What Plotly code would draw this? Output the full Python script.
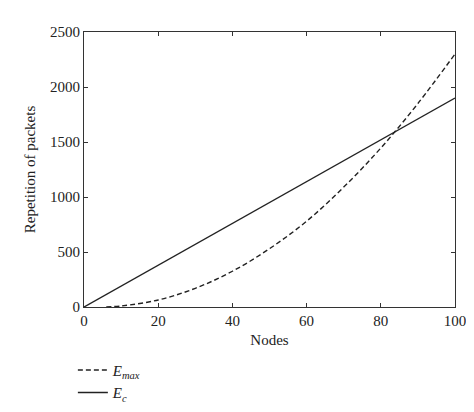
import plotly.graph_objects as go

nodes_emax = [6, 10, 20, 30, 40, 50, 60, 70, 80, 90, 100]
emax = [1, 9, 64, 170, 325, 530, 780, 1090, 1445, 1850, 2300]

nodes_ec = [0, 20, 40, 60, 80, 100]
ec = [0, 380, 760, 1140, 1520, 1900]

font_family = "Liberation Serif, DejaVu Serif, serif"

fig = go.Figure()
fig.add_trace(go.Scatter(x=nodes_emax, y=emax, mode="lines", name="<i>E<sub>max</sub></i>",
                         line=dict(color="#222", width=1.4, dash="5px,3px"), line_shape="spline"))
fig.add_trace(go.Scatter(x=nodes_ec, y=ec, mode="lines", name="<i>E<sub>c</sub></i>",
                         line=dict(color="#222", width=1.4)))

axis_common = dict(showgrid=False, zeroline=False, showline=True, linecolor="#333", linewidth=1,
                   mirror="ticks", ticks="inside", ticklen=4, tickcolor="#333", automargin=False,
                   tickfont=dict(size=15, color="#222", family=font_family))

fig.update_xaxes(range=[0, 100], dtick=20, title=dict(text="Nodes", font=dict(size=15, color="#222", family=font_family), standoff=6), **axis_common)
fig.update_yaxes(range=[0, 2500], dtick=500, title=dict(text="Repetition of packets", font=dict(size=15, color="#222", family=font_family), standoff=10), **axis_common)

fig.update_layout(
    width=474, height=412,
    margin=dict(l=76, r=27, t=24, b=113, autoexpand=False),
    plot_bgcolor="white", paper_bgcolor="white",
    font=dict(family=font_family, color="#222"),
    legend=dict(x=-0.03, y=-0.17, xanchor="left", yanchor="top", bgcolor="rgba(0,0,0,0)",
                font=dict(size=15, family=font_family, color="#222"), tracegroupgap=0, itemwidth=30),
    showlegend=True,
)

fig.write_html("out.html")
